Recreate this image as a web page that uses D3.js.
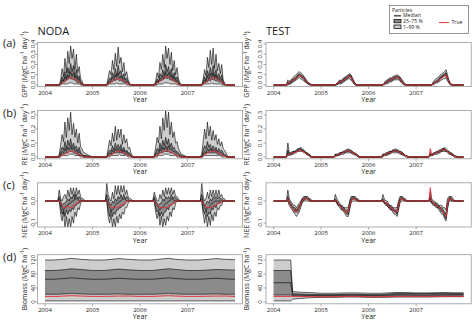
<!DOCTYPE html>
<html lang="en">
<head>
<meta charset="utf-8">
<title>Particle filter - NODA vs TEST</title>
<script src="https://d3js.org/d3.v7.min.js"></script>
<style>
body { margin: 0; background: #fff; }
svg text { font-family: "Open Sans", "Liberation Sans", sans-serif; fill: #1a1a1a; }
.tick-label { font-size: 6px; }
.axis-title { font-size: 7px; }
.col-title { font-size: 11px; }
.row-letter { font-size: 11px; }
.legend text { font-size: 5.1px; }
.frame { fill: none; stroke: #9a9a9a; stroke-width: 0.8; }
.tick { stroke: #777; stroke-width: 0.6; }
.band-outer { fill: #cdcdcd; }
.band-inner { fill: #8b8b8b; }
.edge { fill: none; stroke: #000; stroke-width: 0.6; }
.median { fill: none; stroke: #222; stroke-width: 0.8; }
.truth { fill: none; stroke: #e0343a; stroke-width: 1; }
</style>
</head>
<body>
<div id="chart"></div>
<script>

var years = [2004, 2005, 2006, 2007];
var yearTicks = [2004, 2005, 2006, 2007];

// sample dates inside each growing season (fraction of the year)
var seasonFrac = [0.30, 0.33, 0.36, 0.39, 0.42, 0.45, 0.48, 0.51, 0.54, 0.57,
                  0.60, 0.63, 0.66, 0.69, 0.72, 0.75, 0.78, 0.81, 0.84, 0.87];

// fluxes in gC m-2 day-1, one row per year

var gppNodaP99 = [
  [0,5,16,8,26,12,33,21,38,26,35,15,30,12,18,6,4,0,0,0],
  [0,7,14,10,24,15,31,18,37,21,27,13,22,9,13,5,2,0,0,0],
  [0,4,12,7,22,15,30,17,38,26,36,20,32,14,24,10,17,6,2,0],
  [0,6,15,9,27,17,34,20,36,16,30,14,21,11,20,5,2,0,0,0]];
var gppNodaP75 = [
  [0,2,8,4,13,6,17,11,21,13,19,8,15,6,9,3,2,0,0,0],
  [0,3,7,5,12,8,16,9,19,11,14,7,11,5,7,3,1,0,0,0],
  [0,2,6,3,11,8,15,9,20,13,18,10,16,7,12,5,8,3,1,0],
  [0,3,8,4,14,9,17,10,19,8,15,7,11,6,10,3,1,0,0,0]];
var gppNodaMed = [
  [0,1,5,3,8,5,10,7,13,8,12,6,9,4,6,2,1,0,0,0],
  [0,2,4,3,8,5,10,7,12,6,9,5,7,3,4,2,1,0,0,0],
  [0,1,4,2,7,5,9,6,13,8,12,7,10,5,8,3,5,2,1,0],
  [0,2,5,3,9,5,11,7,12,6,10,5,7,4,6,2,1,0,0,0]];
var gppNodaP25 = [
  [0,1,2,3,3,5,5,7,6,6,5,5,3,2,3,1,0,0,0,0],
  [0,1,2,3,3,5,4,6,5,4,5,3,3,2,2,1,0,0,0,0],
  [0,0,2,3,4,4,5,6,7,6,7,5,5,4,4,3,2,1,0,0],
  [0,1,2,3,3,5,4,6,5,5,4,4,3,3,2,1,0,0,0,0]];
var gppNodaP1 = [
  [0,0,1,1,1,1,1,2,2,2,1,1,1,1,1,0,0,0,0,0],
  [0,0,1,1,1,1,1,2,1,1,1,1,1,1,0,0,0,0,0,0],
  [0,0,0,1,1,1,1,2,2,2,2,1,1,1,1,1,0,0,0,0],
  [0,0,1,1,1,1,1,2,1,1,1,1,1,1,0,0,0,0,0,0]];
var gppNodaTrue = [
  [0,1,2,3,4,5,6,7,7,7,6,6,5,4,3,2,1,0,0,0],
  [0,1,2,3,4,5,5,6,6,6,5,5,4,3,2,1,1,0,0,0],
  [0,1,2,3,4,5,6,7,8,8,8,7,6,5,4,3,2,1,0,0],
  [0,1,2,3,4,5,6,7,7,7,6,6,5,4,3,2,1,0,0,0]];

var gppTestP99 = [
  [5,3,5,6,8,9,10,12,13,12,11,9,7,5,3,2,1,0,0,0],
  [0,2,3,5,4,6,7,8,9,10,11,10,7,4,1,0,0,0,0,0],
  [0,2,4,5,6,7,7,8,9,9,10,9,8,6,4,2,1,0,0,0],
  [0,0,3,5,6,7,8,10,11,12,13,15,10,5,2,1,0,0,0,0]];
var gppTestP75 = [
  [3,2,4,5,6,7,8,10,11,10,9,8,6,4,2,1,1,0,0,0],
  [0,1,2,4,3,5,6,7,8,9,10,9,6,3,1,0,0,0,0,0],
  [0,2,3,4,5,6,6,7,8,8,9,8,7,5,3,1,0,0,0,0],
  [0,0,2,3,4,5,6,8,9,10,11,12,8,4,1,0,0,0,0,0]];
var gppTestMed = [
  [2,2,3,4,5,6,7,9,10,9,8,7,5,3,2,1,0,0,0,0],
  [0,1,2,3,3,4,5,6,7,8,9,8,5,2,1,0,0,0,0,0],
  [0,1,2,3,4,5,5,6,7,7,8,7,6,4,2,1,0,0,0,0],
  [0,0,1,2,3,4,5,7,8,9,10,11,7,3,1,0,0,0,0,0]];
var gppTestP25 = [
  [1,1,2,3,4,5,6,8,9,8,7,6,4,3,1,1,0,0,0,0],
  [0,1,1,2,2,3,4,5,6,7,8,7,4,2,0,0,0,0,0,0],
  [0,1,2,2,3,4,4,5,6,6,7,6,5,3,2,0,0,0,0,0],
  [0,0,1,2,3,3,4,6,7,8,9,9,6,2,1,0,0,0,0,0]];
var gppTestP1 = [
  [0,1,1,2,3,4,5,6,7,6,5,4,3,2,1,0,0,0,0,0],
  [0,0,1,1,1,2,3,4,5,6,6,5,3,1,0,0,0,0,0,0],
  [0,0,1,1,2,3,3,4,5,5,5,5,4,2,1,0,0,0,0,0],
  [0,0,0,1,2,2,3,4,5,6,6,7,4,2,0,0,0,0,0,0]];
var gppTestTrue = [
  [2,2,3,4,5,6,7,8,9,9,8,7,5,4,2,1,0,0,0,0],
  [0,1,2,3,3,4,5,6,7,8,9,8,5,2,1,0,0,0,0,0],
  [0,1,2,3,4,5,5,6,7,7,8,7,6,4,2,1,0,0,0,0],
  [0,0,1,2,3,4,5,6,7,8,9,10,7,3,1,0,0,0,0,0]];

var reNodaP99 = [
  [2,9,16,11,25,14,28,19,32,16,24,14,20,10,17,7,6,3,3,2],
  [0,6,12,8,17,11,22,12,20,14,20,9,16,10,13,6,7,3,1,0],
  [1,7,14,10,22,13,28,19,33,21,32,16,25,14,18,10,11,6,4,2],
  [2,11,20,13,25,15,22,12,19,12,16,9,13,8,11,6,5,3,1,0]];
var reNodaP75 = [
  [1,4,7,5,11,6,12,8,13,7,10,6,8,4,7,3,2,1,1,1],
  [0,3,5,4,8,5,10,6,9,6,9,4,7,4,5,3,3,1,0,0],
  [0,3,6,4,10,6,12,8,14,9,13,7,10,6,7,4,4,3,2,1],
  [1,5,8,6,11,7,9,5,8,5,7,4,6,4,5,3,2,1,0,0]];
var reNodaMed = [
  [0,2,4,3,6,4,7,5,8,5,7,4,5,3,4,2,1,1,1,0],
  [0,1,3,2,5,3,6,4,6,4,6,3,5,3,4,2,2,1,0,0],
  [0,2,3,2,6,4,7,5,8,5,8,5,6,4,4,3,3,2,1,0],
  [0,2,4,3,6,4,6,4,5,4,5,3,4,3,3,2,1,1,0,0]];
var reNodaP25 = [
  [0,1,2,2,3,3,3,4,4,4,3,3,2,2,1,1,1,0,0,0],
  [0,1,1,2,2,3,3,3,3,3,3,3,2,2,2,1,1,0,0,0],
  [0,1,1,2,3,3,3,4,4,4,4,3,3,3,2,2,1,1,0,0],
  [0,1,2,3,3,3,3,3,3,3,3,2,2,2,1,1,1,0,0,0]];
var reNodaP1 = [
  [0,0,1,1,1,1,1,2,2,2,2,1,1,1,1,0,0,0,0,0],
  [0,0,0,1,1,1,1,1,1,2,1,1,1,1,1,0,0,0,0,0],
  [0,0,0,1,1,1,1,2,2,2,2,1,1,1,1,1,0,0,0,0],
  [0,0,1,1,1,1,1,1,1,1,1,1,1,1,0,0,0,0,0,0]];
var reNodaTrue = [
  [0,1,1,2,2,3,3,4,4,4,4,3,3,2,2,1,1,0,0,0],
  [0,1,1,2,2,3,3,4,4,4,4,3,3,2,2,1,1,0,0,0],
  [0,1,1,2,3,3,4,4,5,5,4,4,3,3,2,2,1,1,0,0],
  [0,1,2,2,3,3,4,4,4,4,4,3,3,2,2,1,1,0,0,0]];

var reTestP99 = [
  [10,3,3,4,4,4,5,6,6,7,6,5,4,3,3,2,1,0,0,0],
  [2,2,2,3,3,4,4,5,5,6,5,5,4,3,3,2,1,0,0,0],
  [2,2,3,3,4,4,4,5,5,6,5,5,4,4,3,2,1,1,0,0],
  [3,2,3,3,4,4,5,5,6,6,7,6,5,4,3,3,2,1,1,0]];
var reTestP75 = [
  [5,2,3,3,4,4,5,5,6,6,5,5,4,3,2,2,1,0,0,0],
  [2,2,2,3,3,3,4,4,5,5,5,4,4,3,2,2,1,0,0,0],
  [2,2,2,3,3,4,4,5,5,5,5,4,4,3,3,2,1,0,0,0],
  [2,2,2,3,3,4,4,5,5,6,6,5,4,4,3,2,2,1,0,0]];
var reTestMed = [
  [3,2,2,3,3,4,4,5,5,6,5,4,3,3,2,1,0,0,0,0],
  [1,1,2,2,3,3,3,4,4,5,4,4,3,3,2,1,1,0,0,0],
  [1,1,2,2,3,3,4,4,4,5,4,4,3,3,2,2,1,0,0,0],
  [2,1,2,2,3,3,4,4,5,5,5,5,4,3,3,2,1,1,0,0]];
var reTestP25 = [
  [2,2,2,2,3,3,4,4,5,5,4,4,3,2,2,1,0,0,0,0],
  [1,1,1,2,2,3,3,3,4,4,4,3,3,2,2,1,0,0,0,0],
  [1,1,2,2,2,3,3,4,4,4,4,3,3,2,2,1,1,0,0,0],
  [1,1,2,2,3,3,3,4,4,5,5,4,4,3,2,2,1,0,0,0]];
var reTestP1 = [
  [1,1,1,2,2,3,3,4,4,4,4,3,3,2,1,1,0,0,0,0],
  [0,1,1,1,2,2,2,3,3,3,3,3,2,2,1,1,0,0,0,0],
  [0,1,1,1,2,2,3,3,3,3,3,3,2,2,1,1,0,0,0,0],
  [1,1,1,2,2,2,3,3,4,4,4,4,3,2,2,1,1,0,0,0]];
var reTestTrue = [
  [2,2,2,3,3,3,4,4,5,5,4,4,3,2,2,1,0,0,0,0],
  [1,1,2,2,2,3,3,4,4,5,4,4,3,3,2,1,1,0,0,0],
  [1,1,2,2,3,3,3,4,4,5,4,4,3,3,2,2,1,0,0,0],
  [6,1,2,2,3,3,4,4,5,5,5,5,4,3,3,2,1,1,0,0]];

var neeNodaP99 = [
  [5,1,0,2,3,1,5,2,6,3,6,2,6,3,5,2,1,1,0,0],
  [8,3,1,0,4,1,7,3,7,3,7,4,7,3,5,2,1,1,0,0],
  [4,2,0,0,3,1,5,2,6,3,6,3,6,3,5,2,2,1,0,0],
  [8,2,0,1,4,1,5,2,5,2,5,2,5,2,3,1,1,0,0,0]];
var neeNodaP75 = [
  [2,0,-2,-1,-1,0,1,0,2,1,3,1,3,1,2,1,0,0,0,0],
  [3,1,-1,-2,0,-1,1,0,2,1,3,1,3,1,2,1,0,0,0,0],
  [2,0,-1,-2,-1,-1,1,0,2,1,2,1,3,1,2,1,1,0,0,0],
  [3,0,-2,-1,0,-1,1,0,2,1,2,1,2,1,1,0,0,0,0,0]];
var neeNodaMed = [
  [1,-1,-3,-4,-3,-2,-2,-1,-1,0,0,1,1,1,0,0,0,0,0,0],
  [1,-1,-3,-4,-4,-3,-2,-1,-1,0,0,1,1,1,0,0,0,0,0,0],
  [1,-1,-2,-3,-4,-3,-3,-2,-1,-1,0,0,1,1,0,0,0,0,0,0],
  [1,-1,-3,-4,-3,-3,-2,-1,-1,0,0,0,0,0,0,0,0,0,0,0]];
var neeNodaP25 = [
  [0,-3,-6,-4,-7,-4,-6,-4,-5,-3,-4,-2,-2,-1,-1,0,0,0,0,0],
  [0,-4,-7,-4,-7,-5,-6,-4,-4,-3,-3,-2,-2,-1,0,0,0,0,0,0],
  [0,-3,-5,-4,-7,-5,-7,-5,-5,-3,-4,-2,-2,-1,-1,0,0,0,0,0],
  [0,-4,-6,-4,-7,-5,-6,-3,-4,-2,-3,-1,-1,-1,0,0,0,0,0,0]];
var neeNodaP1 = [
  [0,-6,-9,-5,-12,-7,-12,-8,-12,-7,-10,-5,-7,-3,-4,-1,0,0,0,0],
  [0,-7,-10,-6,-12,-8,-12,-7,-10,-6,-8,-5,-6,-3,-3,-1,0,0,0,0],
  [0,-5,-8,-5,-11,-7,-12,-8,-11,-7,-9,-5,-7,-3,-4,-1,0,0,0,0],
  [0,-6,-10,-6,-12,-7,-11,-6,-9,-5,-7,-3,-4,-2,-2,0,0,0,0,0]];
var neeNodaTrue = [
  [0,-1,-2,-3,-3,-3,-2,-3,-3,-3,-2,-2,-1,-1,0,0,0,0,0,0],
  [0,-1,-2,-3,-3,-3,-3,-3,-3,-2,-2,-2,-1,-1,0,0,0,0,0,0],
  [0,-1,-2,-2,-3,-3,-3,-3,-3,-3,-2,-2,-2,-1,-1,0,0,0,0,0],
  [0,-1,-2,-3,-3,-3,-3,-3,-2,-2,-2,-1,-1,-1,0,0,0,0,0,0]];

var neeTestP99 = [
  [5,1,0,-1,-2,-2,-3,-2,-1,0,1,2,2,2,2,1,1,0,0,0],
  [3,1,0,-1,-2,-2,-3,-3,-3,-3,0,2,2,2,2,1,1,0,0,0],
  [3,1,0,0,-1,-2,-2,-3,-3,-3,-3,0,2,2,2,1,1,0,0,0],
  [4,1,0,0,-1,-1,-2,-2,-2,-3,-3,-4,1,2,2,2,1,0,0,0]];
var neeTestP75 = [
  [2,0,-1,-2,-3,-3,-4,-3,-2,-1,1,1,2,2,1,1,0,0,0,0],
  [1,0,-1,-2,-2,-3,-3,-4,-4,-4,-1,1,2,2,1,1,0,0,0,0],
  [1,0,-1,-1,-2,-2,-3,-3,-4,-4,-4,-1,1,2,1,1,0,0,0,0],
  [2,0,-1,-1,-1,-2,-2,-3,-3,-4,-5,-6,-1,1,2,1,0,0,0,0]];
var neeTestMed = [
  [1,-1,-2,-3,-4,-4,-4,-4,-3,-1,0,1,1,1,1,0,0,0,0,0],
  [0,0,-1,-2,-3,-3,-4,-5,-5,-5,-2,0,1,1,1,0,0,0,0,0],
  [0,0,-1,-1,-2,-3,-3,-4,-4,-5,-5,-2,0,1,1,1,0,0,0,0],
  [1,0,-1,-1,-2,-2,-3,-3,-4,-5,-6,-7,-2,1,1,1,0,0,0,0]];
var neeTestP25 = [
  [0,-1,-2,-3,-4,-5,-5,-5,-3,-2,0,0,1,1,1,0,0,0,0,0],
  [0,-1,-2,-2,-3,-4,-4,-5,-6,-6,-3,0,1,1,1,0,0,0,0,0],
  [0,-1,-1,-2,-3,-3,-4,-4,-5,-5,-6,-3,0,1,1,0,0,0,0,0],
  [0,-1,-1,-2,-2,-3,-3,-4,-5,-5,-7,-8,-3,0,1,0,0,0,0,0]];
var neeTestP1 = [
  [0,-2,-3,-4,-5,-6,-7,-6,-5,-3,-1,0,0,0,0,0,0,0,0,0],
  [0,-1,-2,-3,-4,-4,-5,-6,-7,-7,-4,-1,0,0,0,0,0,0,0,0],
  [0,-1,-2,-2,-3,-4,-4,-5,-6,-6,-7,-4,-1,0,0,0,0,0,0,0],
  [0,-1,-2,-2,-3,-3,-4,-5,-6,-6,-8,-9,-4,0,0,0,0,0,0,0]];
var neeTestTrue = [
  [1,-1,-2,-3,-4,-4,-5,-4,-3,-1,0,1,1,1,1,0,0,0,0,0],
  [0,0,-1,-2,-3,-3,-4,-5,-5,-5,-2,0,1,1,1,0,0,0,0,0],
  [0,0,-1,-1,-2,-3,-3,-4,-4,-5,-5,-2,0,1,1,1,0,0,0,0],
  [6,0,-1,-1,-2,-2,-3,-3,-4,-5,-6,-7,-2,1,1,1,0,0,0,0]];

// biomass stock, MgC ha-1
var bioTime = [2004.00, 2004.15, 2004.30, 2004.36, 2004.40, 2004.55, 2004.75, 2005.00, 2005.25, 2005.55,
               2005.75, 2006.00, 2006.25, 2006.60, 2006.75, 2007.00, 2007.25, 2007.60, 2007.80, 2008.00];

var bioNodaP99 = [120,120,121,122,122,125,122,120,120,124,122,120,120,125,122,120,120,124,122,121];
var bioNodaP75 = [90,90,91,92,92,95,93,90,90,94,92,90,90,95,93,90,90,93,92,91];
var bioNodaMed = [65,65,66,67,67,69,67,65,65,68,66,65,65,69,67,65,65,68,66,65];
var bioNodaP25 = [22,22,22,23,23,24,23,22,22,23,22,22,22,24,23,22,22,23,22,22];
var bioNodaP1 = [3,3,3,3,3,3,3,3,3,3,3,3,3,3,3,3,3,3,3,3];
var bioNodaTrue = [16,16,16,17,17,18,17,16,16,17,17,16,16,18,17,16,16,17,17,16];

var bioTestP99 = [120,120,120,120,30,28,27,25,25,26,26,25,25,27,27,26,26,27,26,26];
var bioTestP75 = [90,90,90,90,24,23,22,21,21,22,22,21,21,25,25,24,24,25,25,25];
var bioTestMed = [55,55,55,55,20,20,19,19,19,20,20,19,19,21,21,20,20,21,21,21];
var bioTestP25 = [20,20,20,20,17,17,17,17,17,17,17,17,17,17,17,17,17,17,17,17];
var bioTestP1 = [3,3,3,3,8,10,12,13,13,14,14,13,13,14,14,14,14,15,15,15];
var bioTestTrue = [16,16,16,16,16,16,15,15,15,16,16,15,15,16,16,16,16,16,16,16];

// gC m-2 -> MgC ha-1
function toMgC(v) { return v / 100; }

function seasonal(rows) {
    let pts = [];
    years.forEach(function(yr, k) {
        // flat at zero through winter
        pts.push([yr, 0], [yr + 0.27, 0]);
        rows[k].forEach(function(v, i) { pts.push([yr + seasonFrac[i], toMgC(v)]); });
    });
    pts.push([2008, 0]);
    return pts;
}

function stock(values) {
    return values.map(function(v, i) { return [bioTime[i], v]; });
}

function bundle(p1, p25, med, p75, p99, truth, fn) {
    return {p1: fn(p1), p25: fn(p25), med: fn(med), p75: fn(p75), p99: fn(p99), truth: fn(truth)};
}

var rows = [
    {letter: "(a)", name: "GPP", daily: true, top: 42.4, bottom: 86.6, lim: [0, 0.4], ticks: [0, 0.1, 0.2, 0.3, 0.4], fmt: (v) => v.toFixed(1)},
    {letter: "(b)", name: "RE", daily: true, top: 110.4, bottom: 158.8, lim: [0, 0.32], ticks: [0, 0.1, 0.2, 0.3], fmt: (v) => v.toFixed(1)},
    {letter: "(c)", name: "NEE", daily: true, top: 182.8, bottom: 227, lim: [-0.11, 0.075], ticks: [-0.1, 0], fmt: (v) => v.toFixed(1)},
    {letter: "(d)", name: "Biomass", daily: false, top: 254.7, bottom: 303.8, lim: [0, 130], ticks: [0, 40, 80, 120], fmt: (v) => String(v)}
];

var cols = [
    {title: "NODA", left: 37.4, right: 242.6, tickX: 33, labX: 26.5},
    {title: "TEST", left: 266, right: 471.2, tickX: 259.5, labX: 249}
];

var cells = [
    [bundle(gppNodaP1, gppNodaP25, gppNodaMed, gppNodaP75, gppNodaP99, gppNodaTrue, seasonal),
     bundle(gppTestP1, gppTestP25, gppTestMed, gppTestP75, gppTestP99, gppTestTrue, seasonal)],
    [bundle(reNodaP1, reNodaP25, reNodaMed, reNodaP75, reNodaP99, reNodaTrue, seasonal),
     bundle(reTestP1, reTestP25, reTestMed, reTestP75, reTestP99, reTestTrue, seasonal)],
    [bundle(neeNodaP1, neeNodaP25, neeNodaMed, neeNodaP75, neeNodaP99, neeNodaTrue, seasonal),
     bundle(neeTestP1, neeTestP25, neeTestMed, neeTestP75, neeTestP99, neeTestTrue, seasonal)],
    [bundle(bioNodaP1, bioNodaP25, bioNodaMed, bioNodaP75, bioNodaP99, bioNodaTrue, stock),
     bundle(bioTestP1, bioTestP25, bioTestMed, bioTestP75, bioTestP99, bioTestTrue, stock)]
];

var svg = d3.select("#chart").append("svg")
    .attr("width", 474)
    .attr("height", 322);

var defs = svg.append("defs");

function band(lo, hi, x, y) {
    return d3.area()
        .x(function(d, i) { return x(lo[i][0]); })
        .y0(function(d, i) { return y(lo[i][1]); })
        .y1(function(d, i) { return y(hi[i][1]); })(lo);
}

function yTitle(g, row, col) {
    let cy = (row.top + row.bottom) / 2;
    let t = g.append("text")
        .attr("class", "axis-title")
        .attr("text-anchor", "middle")
        .attr("transform", "translate(" + col.labX + "," + cy + ") rotate(-90)");
    t.append("tspan").text(row.name + " (MgC ha");
    t.append("tspan").attr("dy", -2.5).style("font-size", "5px").text("-1");
    if (row.daily) {
        t.append("tspan").attr("dy", 2.5).text(" day");
        t.append("tspan").attr("dy", -2.5).style("font-size", "5px").text("-1");
    }
    t.append("tspan").attr("dy", 2.5).text(")");
}

function drawCell(row, col, s, id) {
    let span = row.lim[1] - row.lim[0];
    let x = d3.scaleLinear().domain([2004 - 0.16, 2008 + 0.16]).range([col.left, col.right]);
    let y = d3.scaleLinear().domain([row.lim[0] - 0.04 * span, row.lim[1] + 0.04 * span]).range([row.bottom, row.top]);
    let line = d3.line().x((d) => x(d[0])).y((d) => y(d[1]));

    defs.append("clipPath").attr("id", id)
        .append("rect")
        .attr("x", col.left).attr("y", row.top)
        .attr("width", col.right - col.left).attr("height", row.bottom - row.top);

    let g = svg.append("g");
    let plot = g.append("g").attr("clip-path", "url(#" + id + ")");

    plot.append("path").attr("class", "band-outer").attr("d", band(s.p1, s.p99, x, y));
    plot.append("path").attr("class", "band-inner").attr("d", band(s.p25, s.p75, x, y));
    [s.p1, s.p99, s.p25, s.p75].forEach(function(p) {
        plot.append("path").attr("class", "edge").attr("d", line(p));
    });
    plot.append("path").attr("class", "median").attr("d", line(s.med));
    plot.append("path").attr("class", "truth").attr("d", line(s.truth));

    g.append("rect").attr("class", "frame")
        .attr("x", col.left).attr("y", row.top)
        .attr("width", col.right - col.left).attr("height", row.bottom - row.top);

    // x axis
    g.selectAll(".xtick").data(yearTicks).enter().append("line")
        .attr("class", "tick")
        .attr("x1", (d) => x(d)).attr("x2", (d) => x(d))
        .attr("y1", row.bottom).attr("y2", row.bottom + 2.5);
    g.selectAll(".xlab").data(yearTicks).enter().append("text")
        .attr("class", "tick-label")
        .attr("text-anchor", "middle")
        .attr("x", (d) => x(d)).attr("y", row.bottom + 8)
        .text((d) => d);
    g.append("text").attr("class", "axis-title")
        .attr("text-anchor", "middle")
        .attr("x", (col.left + col.right) / 2).attr("y", row.bottom + 15.5)
        .text("Year");

    // y axis
    g.selectAll(".ytick").data(row.ticks).enter().append("line")
        .attr("class", "tick")
        .attr("x1", col.left - 2.5).attr("x2", col.left)
        .attr("y1", (d) => y(d)).attr("y2", (d) => y(d));
    g.selectAll(".ylab").data(row.ticks).enter().append("text")
        .attr("class", "tick-label")
        .attr("text-anchor", "middle")
        .attr("transform", (d) => "translate(" + (col.tickX + 2.2) + "," + y(d) + ") rotate(-90)")
        .text((d) => row.fmt(d));

    yTitle(g, row, col);
}

rows.forEach(function(row, r) {
    cols.forEach(function(col, c) {
        drawCell(row, col, cells[r][c], "clip-" + r + "-" + c);
    });
    svg.append("text").attr("class", "row-letter")
        .attr("x", 3).attr("y", row.top + (r == 0 ? 4.6 : 6.6))
        .text(row.letter);
});

cols.forEach(function(col) {
    svg.append("text").attr("class", "col-title")
        .attr("x", col.left).attr("y", 35)
        .text(col.title);
});

// legend
var legend = svg.append("g").attr("class", "legend");
legend.append("rect")
    .attr("x", 389.5).attr("y", 5.5).attr("width", 79).attr("height", 28)
    .attr("fill", "#fff").attr("stroke", "#7a7a7a").attr("stroke-width", 0.8);
legend.append("text").attr("x", 392).attr("y", 11.6).text("Particles");
legend.append("line").attr("x1", 394).attr("x2", 401).attr("y1", 15.8).attr("y2", 15.8)
    .attr("stroke", "#444").attr("stroke-width", 1.4);
legend.append("text").attr("x", 403).attr("y", 17.4).text("Median");
legend.append("rect").attr("x", 394).attr("y", 19.4).attr("width", 7).attr("height", 3.4)
    .attr("fill", "#8b8b8b").attr("stroke", "#111").attr("stroke-width", 0.8);
legend.append("text").attr("x", 403).attr("y", 23).text("25\u201375 %");
legend.append("rect").attr("x", 394).attr("y", 25).attr("width", 7).attr("height", 3.4)
    .attr("fill", "#cdcdcd").attr("stroke", "#111").attr("stroke-width", 0.8);
legend.append("text").attr("x", 403).attr("y", 28.6).text("1\u201399 %");
legend.append("line").attr("x1", 439).attr("x2", 449).attr("y1", 22.6).attr("y2", 22.6)
    .attr("stroke", "#e0343a").attr("stroke-width", 1);
legend.append("text").attr("x", 451.5).attr("y", 24.4).text("True");

</script>
</body>
</html>
